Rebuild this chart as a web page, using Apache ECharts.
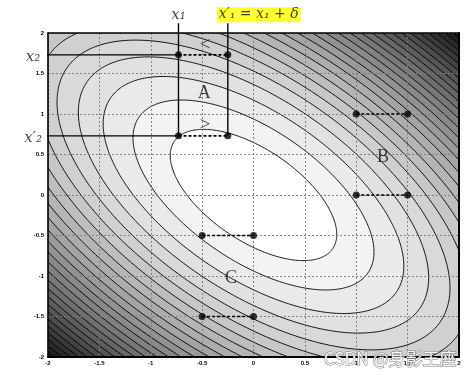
<!DOCTYPE html>
<html><head><meta charset="utf-8">
<script src="https://cdn.jsdelivr.net/npm/echarts@6/dist/echarts.min.js"></script>
<style>html,body{margin:0;padding:0;background:#fff;}#c{width:471px;height:375px;}</style>
</head><body><div id="c"></div>
<script>
// ---- data ----
const axisTicks = [-2, -1.5, -1, -0.5, 0, 0.5, 1, 1.5, 2];
// quadratic surface f = a*x1^2 + b*x1*x2 + c*x2^2 around its minimum
const quadCoef = [1.0, 1.2, 1.0];
const surfaceCenter = [0, 0];
// contour levels (innermost first)
const contourLevels = [0.42, 0.88, 1.37, 1.86, 2.34, 2.82, 3.30, 3.78, 4.26, 4.74, 5.22, 5.70, 6.18,
  6.66, 7.14, 7.62, 8.10, 8.58, 9.06, 9.54, 10.02, 10.50, 10.98, 11.46, 11.94, 12.42];
// point pairs (x, x+delta) in regions A, B, C
const pairStartX = [-0.73, -0.73, 1.0, 1.0, -0.5, -0.5];
const pairEndX = [-0.25, -0.25, 1.5, 1.5, 0.0, 0.0];
const pairY = [1.73, 0.73, 1.0, 0.0, -0.5, -1.5];
// guide lines for x1, x1' (vertical) and x2, x2' (horizontal)
const guideX = [-0.73, -0.25];
const guideY = [1.73, 0.73];
const guideTopY = 2.12;
const guideLeftX = -2.06;
const guideLabelsX = ['x₁', 'x′₁ = x₁ + δ'];
const guideLabelsY = ['x₂', 'x′₂'];
// region labels
const regionNames = ['A', 'B', 'C'];
const regionX = [-0.48, 1.26, -0.22];
const regionY = [1.25, 0.47, -1.03];
// comparison signs
const signTexts = ['<', '>'];
const signX = [-0.47, -0.47];
const signY = [1.85, 0.86];

// ---- chart ----
const chart = echarts.init(document.getElementById('c'), null, {renderer: 'canvas'});
const nLev = contourLevels.length;
function gray(k) {
  const g = k === 0 ? 255 : Math.max(0, Math.round(243 - 8.8 * (k - 1)));
  return 'rgb(' + g + ',' + g + ',' + g + ')';
}

function ellipsePts(level, api) {
  const a = quadCoef[0], b = quadCoef[1], c = quadCoef[2];
  const th = 0.5 * Math.atan2(b, a - c);
  const cs = Math.cos(th), sn = Math.sin(th);
  const l1 = a * cs * cs + b * sn * cs + c * sn * sn;
  const l2 = a * sn * sn - b * sn * cs + c * cs * cs;
  const r1 = Math.sqrt(level / l1), r2 = Math.sqrt(level / l2);
  const pts = [];
  const N = 360;
  for (let i = 0; i < N; i++) {
    const t = i / N * 2 * Math.PI;
    const u = r1 * Math.cos(t), v = r2 * Math.sin(t);
    pts.push(api.coord([surfaceCenter[0] + u * cs - v * sn, surfaceCenter[1] + u * sn + v * cs]));
  }
  return pts;
}

// draw order: outermost level first
const contourData = contourLevels.map((L, i) => [L, i]).reverse();

const series = [];
series.push({
  type: 'custom', coordinateSystem: 'cartesian2d', z: 1, silent: true, clip: true,
  data: contourData,
  encode: {x: 0, y: 1},
  renderItem: function (params, api) {
    const L = api.value(0), k = api.value(1);
    const r = params.coordSys;
    const clip = {type: 'rect', shape: {x: r.x, y: r.y, width: r.width, height: r.height}};
    const children = [];
    if (params.dataIndex === 0) {
      children.push({type: 'rect', shape: {x: r.x, y: r.y, width: r.width, height: r.height},
        style: {fill: gray(nLev)}});
    }
    children.push({type: 'polygon', shape: {points: ellipsePts(L, api)},
      style: {fill: gray(k), stroke: '#000', lineWidth: 0.9}});
    return {type: 'group', children: children, clipPath: clip};
  }
});

// guide lines (solid)
const solidLine = {color: '#000', width: 1.4};
guideX.forEach((gx) => {
  series.push({type: 'line', z: 5, clip: false, silent: true, symbol: 'none', lineStyle: solidLine,
    data: [[gx, guideY[1]], [gx, guideTopY]]});
});
guideY.forEach((gy) => {
  series.push({type: 'line', z: 5, clip: false, silent: true, symbol: 'none', lineStyle: solidLine,
    data: [[guideLeftX, gy], [guideX[0], gy]]});
});
// dashed pair connectors
pairY.forEach((py, i) => {
  series.push({type: 'line', z: 6, clip: false, silent: true, symbol: 'none',
    lineStyle: {color: '#000', width: 1.6, type: [3, 2]},
    data: [[pairStartX[i], py], [pairEndX[i], py]]});
});
// dots
const dots = [];
pairY.forEach((py, i) => { dots.push([pairStartX[i], py]); dots.push([pairEndX[i], py]); });
series.push({type: 'scatter', z: 7, silent: true, clip: false, symbolSize: 7,
  itemStyle: {color: '#000'}, data: dots});

// text labels
function textSeries(xs, ys, texts, labelStyle) {
  return {type: 'scatter', z: 8, silent: true, clip: false, symbolSize: 1,
    itemStyle: {color: 'rgba(0,0,0,0)'},
    data: texts.map((t, i) => ({value: [xs[i], ys[i]], name: t})),
    label: Object.assign({show: true, position: 'inside', formatter: p => p.name}, labelStyle)};
}
series.push(textSeries(regionX, regionY, regionNames,
  {fontFamily: 'Liberation Serif', fontSize: 18, color: '#111'}));
series.push(textSeries(signX, signY, signTexts,
  {fontFamily: 'Liberation Serif', fontSize: 19, color: '#222'}));
series.push(textSeries([guideX[0]], [2.215], [guideLabelsX[0]],
  {fontFamily: 'DejaVu Serif', fontStyle: 'italic', fontSize: 15, color: '#111'}));
series.push(textSeries([0.05], [2.225], [guideLabelsX[1]],
  {fontFamily: 'DejaVu Serif', fontStyle: 'italic', fontSize: 14, color: '#111',
   backgroundColor: '#ffff00', padding: [1, 2, 0, 2]}));
series.push(textSeries([-2.145, -2.145], [1.70, 0.70], guideLabelsY,
  {fontFamily: 'DejaVu Serif', fontStyle: 'italic', fontSize: 15, color: '#111'}));

const axisLabel = {fontSize: 6, fontWeight: 'bold', fontFamily: 'Liberation Sans', color: '#000',
  showMinLabel: true, showMaxLabel: true, formatter: v => String(v)};
const splitLine = {show: true, lineStyle: {color: '#7a7a7a', width: 0.9, type: [2, 2]}};

chart.setOption({
  animation: false,
  backgroundColor: '#fff',
  grid: {left: 48, top: 33, width: 411, height: 324},
  xAxis: [
    {type: 'value', min: -2, max: 2, interval: 0.5, z: 3, position: 'bottom',
     axisLine: {show: true, onZero: false, lineStyle: {color: '#000', width: 2}},
     axisTick: {show: false}, axisLabel: Object.assign({margin: 3}, axisLabel), splitLine: splitLine},
    {type: 'value', min: -2, max: 2, interval: 0.5, z: 3, position: 'top',
     axisLine: {show: true, onZero: false, lineStyle: {color: '#000', width: 1.6}},
     axisTick: {show: false}, axisLabel: {show: false}, splitLine: {show: false}}
  ],
  yAxis: [
    {type: 'value', min: -2, max: 2, interval: 0.5, z: 3, position: 'left',
     axisLine: {show: true, onZero: false, lineStyle: {color: '#000', width: 1.6}},
     axisTick: {show: false}, axisLabel: Object.assign({margin: 4}, axisLabel), splitLine: splitLine},
    {type: 'value', min: -2, max: 2, interval: 0.5, z: 3, position: 'right',
     axisLine: {show: true, onZero: false, lineStyle: {color: '#000', width: 2}},
     axisTick: {show: false}, axisLabel: {show: false}, splitLine: {show: false}}
  ],
  graphic: [{type: 'text', right: 14, bottom: 7, z: 100, silent: true,
    style: {text: 'CSDN @身影王座', font: '17px "Noto Sans CJK SC"',
      fill: 'rgba(255,255,255,0.92)', stroke: 'rgba(110,110,110,0.9)', lineWidth: 1}}],
  series: series
});
</script></body></html>
